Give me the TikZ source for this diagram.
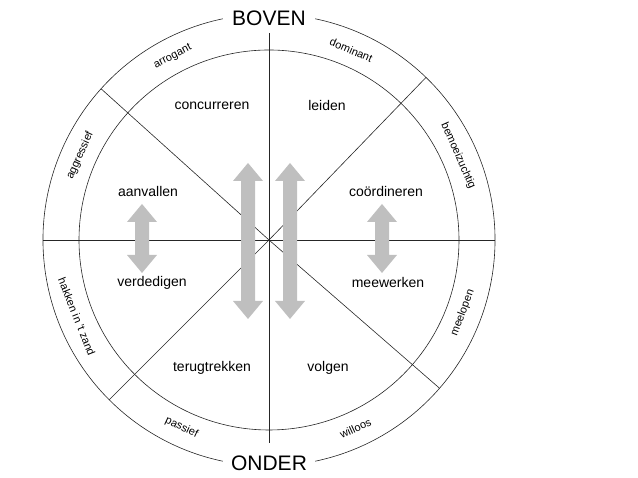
\documentclass[tikz,border=0pt]{standalone}
\usepackage{fontspec}
\setmainfont{Liberation Sans}
\usetikzlibrary{calc}
\begin{document}
\begin{tikzpicture}[x=1pt,y=1pt,
  big/.style={font=\fontsize{14}{16}\selectfont},
  ring/.style={font=\fontsize{11}{13}\selectfont},
  pole/.style={font=\fontsize{21}{24}\selectfont},
  ln/.style={line width=0.6pt,draw=black!85}]
\useasboundingbox (0,0) rectangle (638,478);
\coordinate (c) at (269,238);
\def\Ro{226}\def\Ri{190}
% outer circle with gaps for BOVEN / ONDER
\draw[ln] (c) ++(101.8:\Ro) arc[start angle=101.8,end angle=258.2,radius=\Ro];
\draw[ln] (c) ++(78.2:\Ro) arc[start angle=78.2,end angle=-78.2,radius=\Ro];
\draw[ln] (c) circle[radius=\Ri];
\draw[ln] (c) ++(180:\Ro) -- ++(2*\Ro,0);
\draw[ln] (269,445) -- (269,35);
\draw[ln] (c) -- ++(138:\Ro);
\draw[ln] (c) -- ++(46:\Ro);
\draw[ln] (c) -- ++(225:\Ro);
\draw[ln] (c) -- ++(-41:\Ro);
% arrows: x, top y, bottom y
\def\darrow#1#2#3{\fill[black!25] (#1-7,#2-18) -- (#1-15,#2-18) -- (#1,#2) -- (#1+15,#2-18) -- (#1+7,#2-18) -- (#1+7,#3+18) -- (#1+15,#3+18) -- (#1,#3) -- (#1-15,#3+18) -- (#1-7,#3+18) -- cycle;}
\darrow{142}{274}{205}
\darrow{382}{274}{205}
\darrow{248}{315}{159}
\darrow{290}{315}{159}
% labels
\node[pole] (boven) at (269,460) {BOVEN};
\node[pole] (onder) at (269,15) {ONDER};
\node[big] (n1) at (212,372) {concurreren};
\node[big] (n2) at (327,372) {leiden};
\node[big] (n3) at (148,286) {aanvallen};
\node[big] (n4) at (386,286) {coördineren};
\node[big] (n5) at (152,195) {verdedigen};
\node[big] (n6) at (388,195) {meewerken};
\node[big] (n7) at (212,110) {terugtrekken};
\node[big] (n8) at (328,110) {volgen};
\node[ring,rotate=27.7] (r1) at ($(c)+(117.7:207)$) {arrogant};
\node[ring,rotate=-23.4] (r2) at ($(c)+(66.6:207)$) {dominant};
\node[ring,rotate=-66] (r3) at ($(c)+(24:207)$) {bemoeizuchtig};
\node[ring,rotate=65.9] (r4) at ($(c)+(155.9:207)$) {aggressief};
\node[ring,rotate=-68.2] (r5) at ($(c)+(201.8:207)$) {hakken in 't zand};
\node[ring,rotate=-25] (r6) at ($(c)+(245:207)$) {passief};
\node[ring,rotate=24.7] (r7) at ($(c)+(294.7:207)$) {willoos};
\node[ring,rotate=69.4] (r8) at ($(c)+(339.4:207)$) {meelopen};
\end{tikzpicture}
\end{document}
